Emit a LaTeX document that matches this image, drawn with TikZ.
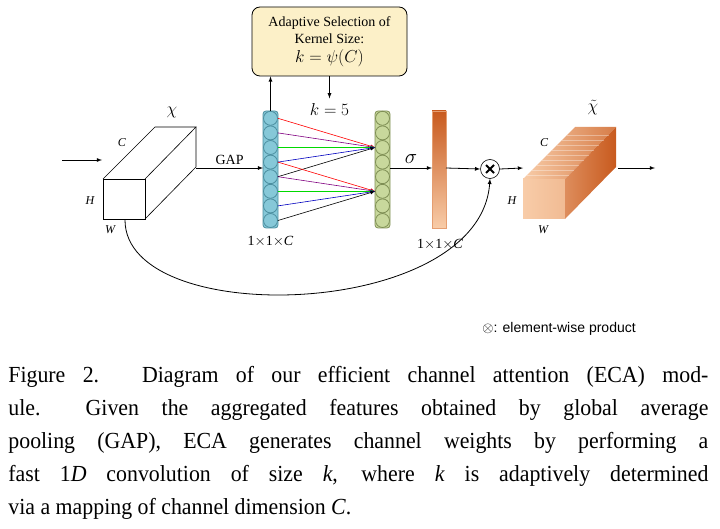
\documentclass[tikz,border=0pt]{standalone}
\usepackage{fontspec}
\setmainfont{Liberation Serif}
\newfontfamily\legendfont{Liberation Sans}
\usetikzlibrary{positioning}
\definecolor{boxyellow}{HTML}{FCF0C8}
\definecolor{gapblue}{HTML}{86C8D8}
\definecolor{gapedge}{HTML}{4C8FA0}
\definecolor{convgreen}{HTML}{C8D89C}
\definecolor{convedge}{HTML}{7F8F55}
\definecolor{darkorange}{HTML}{C85A1E}
\definecolor{lightorange}{HTML}{F8CCA8}
\begin{document}
\begin{tikzpicture}[
    x=1pt, y=-1pt,
    thick,
    >=latex,
    lbl/.style = {font=\fontsize{12}{13}\selectfont\itshape, inner sep=0pt},
    cell/.style = {
      draw,
      circle,
      inner sep = 0pt,
      minimum size = 14pt
    },
    gapcell/.style = {cell, fill=gapblue, draw=gapedge},
    convcell/.style = {cell, fill=convgreen, draw=convedge},
    conn/.style = {->, semithick, >=latex}
  ]
  \useasboundingbox (0,0) rectangle (720,529);
  % input cube
  \draw[semithick] (103,179) rectangle (145,219);
  \draw[semithick] (103,179) -- (155,127) -- (196,127) -- (145,179);
  \draw[semithick] (196,127) -- (196,167) -- (145,219);
  \coordinate (cubeR) at (196,168);
  \coordinate (cubeW) at (125,220);
  \node[lbl, font=\fontsize{17}{17}\selectfont\itshape] at (172,112) {$\chi$};
  \node[lbl] at (122,143) {C};
  \node[lbl] at (90,201) {H};
  \node[lbl] at (110,230) {W};
  \draw[->] (62,160) coordinate (in) -- (102,160);
  % GAP column
  \fill[gapblue, draw=gapedge, rounded corners=3pt] (263,111) rectangle (278,228);
  \foreach \i in {1,...,8}
    \node[gapcell] (g\i) at (270.5,{111+7.3+(\i-1)*14.6}) {};
  % conv column
  \fill[convgreen, draw=convedge, rounded corners=3pt] (375,111) rectangle (390,228);
  \foreach \i in {1,...,8}
    \node[convcell] (c\i) at (382.5,{111+7.3+(\i-1)*14.6}) {};
  \draw[->] (cubeR) -- node[above, font=\fontsize{14}{14}\selectfont] {GAP} (g5.west |- cubeR);
  % 1D convolution, k = 5
  \foreach \s/\t/\col in {1/3/red, 2/3/violet, 3/3/green!85!black, 4/3/blue!75!black, 5/3/black,
                         4/6/red, 5/6/violet, 6/6/green!85!black, 7/6/blue!75!black, 8/6/black}
    \draw[->, semithick, draw=\col, >=latex] (g\s.east) -- (c\t.west);
  % kernel size box
  \node[draw, fill=boxyellow, rounded corners=8pt, thick, minimum width=155pt, minimum height=69pt,
        align=center, inner sep=2pt, font=\fontsize{14}{17}\selectfont] (ksel) at (329.5,41.5)
    {Adaptive Selection of\\ Kernel Size:\\[2pt] {\fontsize{19}{20}\selectfont$k=\psi(C)$}};
  \draw[->] (g1.north) -- (g1.north |- ksel.south);
  \draw[->] (ksel.south) -- ++(0,22) node[below=1pt, font=\fontsize{17}{17}\selectfont] (kval) {$k=5$};
  % sigmoid and weights
  \shade[top color=darkorange, bottom color=lightorange, draw=lightorange!60!darkorange, thin]
    (432,111) rectangle (446,228);
  \coordinate (barL) at (432,168);
  \coordinate (barR) at (446,168);
  \draw[->] (c5.east |- barL) -- node[above=1pt, font=\fontsize{21}{21}\selectfont] {$\sigma$} (barL);
  \node[font=\fontsize{14}{14}\selectfont] at (270.5,241) {1$\times$1$\times$\textit{C}};
  \node[font=\fontsize{14}{14}\selectfont] at (440,244) {1$\times$1$\times$\textit{C}};
  % product
  \node[draw, semithick, circle, minimum size=19pt, inner sep=0pt] (prod) at (490,169) {};
  \draw[line width=2pt] ([shift={(-4,-4)}]prod.center) -- ([shift={(4,4)}]prod.center)
                        ([shift={(-4,4)}]prod.center) -- ([shift={(4,-4)}]prod.center);
  \draw[->] (barR) -- (prod.west);
  \draw[->] (cubeW) .. controls (125,330) and (480,320) .. (prod.south);
  % output cube
  \shade[left color=lightorange, right color=lightorange!85!darkorange] (523,179) rectangle (565,219);
  \shade[left color=lightorange, right color=darkorange!70!lightorange]
    (523,179) -- (575,127) -- (616,127) -- (565,179) -- cycle;
  \shade[left color=darkorange!55!lightorange, right color=darkorange]
    (565,179) -- (616,127) -- (616,167) -- (565,219) -- cycle;
  \foreach \d in {4,9,...,44}
    \draw[white, opacity=.35, very thin] (523+\d,{179-\d}) -- (565+\d,{179-\d});
  \coordinate (outL) at (523,168);
  \coordinate (outR) at (618,168);
  \draw[->] (prod.east) -- (outL);
  \draw[->] (outR) -- (655,168);
  \node[lbl, font=\fontsize{17}{17}\selectfont\itshape] at (593,108) {$\tilde{\chi}$};
  \node[lbl] at (544,143) {C};
  \node[lbl] at (512,201) {H};
  \node[lbl] at (543,230) {W};
  % legend
  \node[anchor=west, inner sep=0pt, font=\legendfont\fontsize{14}{14}\selectfont] (legend) at (482,329)
    {$\otimes$: element-wise product};
  % caption
  \node[anchor=north west, inner sep=0pt, text width=700pt, align=justify,
        font=\addfontfeatures{FakeStretch=0.95}\fontsize{23}{33}\selectfont] (caption) at (8,366)
    {Figure 2. Diagram of our efficient channel attention (ECA) mod-\linebreak
     ule.\ \ Given the aggregated features obtained by global average\linebreak
     pooling (GAP), ECA generates channel weights by performing a\linebreak
     fast 1\textit{D} convolution of size \textit{k}, where \textit{k} is adaptively determined\linebreak
     via a mapping of channel dimension \textit{C}.};
\end{tikzpicture}
\end{document}
